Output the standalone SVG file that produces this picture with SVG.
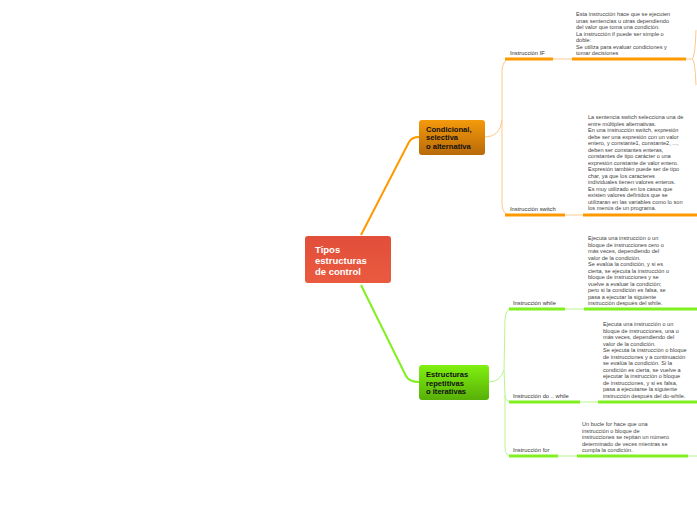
<svg xmlns="http://www.w3.org/2000/svg" width="697" height="520" viewBox="0 0 697 520">
<defs>
<linearGradient id="gO" x1="0" y1="0" x2="0" y2="1"><stop offset="0" stop-color="#f59a0c"/><stop offset="1" stop-color="#b86a08"/></linearGradient>
<linearGradient id="gG" x1="0" y1="0" x2="0" y2="1"><stop offset="0" stop-color="#80f010"/><stop offset="1" stop-color="#58b008"/></linearGradient>
<linearGradient id="gR" x1="0" y1="0" x2="0" y2="1"><stop offset="0" stop-color="#e14e3a"/><stop offset="1" stop-color="#ea5a3f"/></linearGradient>
</defs>
<style>
text{font-family:"Liberation Sans",Arial,sans-serif}
.d{font-size:5.6px;fill:#444}
.l{font-size:5.8px;fill:#333}
.n{font-size:7.6px;font-weight:bold;fill:#111}
.o{stroke:#f90;fill:none}
.g{stroke:#80f020;fill:none}
.thinO{stroke:#fbc98a;fill:none;stroke-width:1}
.thinG{stroke:#b8f58a;fill:none;stroke-width:1}
</style>
<rect width="697" height="520" fill="#fff"/>
<g id="connectors">
<path class="o" stroke-width="2" d="M361 235 L409 142 Q412 137 419 137"/>
<path class="g" stroke-width="2" d="M361 285 L406 376 Q409 382 419 382"/>
<path class="thinO" d="M485 137 Q500 137 502 120 L502 70 Q503 59 510 59 M502 120 L502 205 Q503 215 510 215"/>
<path class="o" stroke-width="3" d="M505 59 L553 59 M572 59 L686 59 M505 215 L565 215 M583 215 L697 215"/>
<path class="thinO" d="M553 59 L572 59 M565 215 L583 215 M686 59 L692 59 Q695 59 696 30 M692 59 Q695 59 696 85"/>
<path class="thinG" d="M489 382 Q500 382 504 370 L505 320 Q505 309 512 309 M504 370 L505 395 Q505 402 512 402 M505 395 L505 448 Q505 456 512 456"/>
<path class="g" stroke-width="3" d="M509 309 L565 309 M584 309 L697 309 M509 402 L580 402 M598 402 L697 402 M509 456 L558 456 M577 456 L688 456"/>
<path class="thinG" d="M565 309 L584 309 M580 402 L598 402 M558 456 L577 456 M688 456 L697 456"/>
</g>
<g id="root"><rect x="305" y="236" width="86" height="47" rx="3" fill="url(#gR)"/>
<text x="315" y="253" font-size="9.5" font-weight="bold" fill="#fff">Tipos</text>
<text x="315" y="264" font-size="9.5" font-weight="bold" fill="#fff">estructuras</text>
<text x="315" y="275" font-size="9.5" font-weight="bold" fill="#fff">de control</text></g>
<g id="cond"><rect x="419" y="120" width="66" height="35" rx="3" fill="url(#gO)"/>
<text class="n" x="426" y="132">Condicional,</text><text class="n" x="426" y="140">selectiva</text><text class="n" x="426" y="149">o alternativa</text></g>
<g id="rep"><rect x="419" y="365" width="70" height="35" rx="3" fill="url(#gG)"/>
<text class="n" x="426" y="377">Estructuras</text><text class="n" x="426" y="386">repetitivas</text><text class="n" x="426" y="394">o iterativas</text></g>
<g id="if"><text class="l" x="510" y="55">Instrucción IF</text>
<text class="d" x="576" y="16"><tspan x="576">Esta instrucción hace que se ejecuten</tspan><tspan x="576" dy="6.5">unas sentencias u otras dependiendo</tspan><tspan x="576" dy="6.5">del valor que toma una condición.</tspan><tspan x="576" dy="6.5">La instrucción if puede ser simple o</tspan><tspan x="576" dy="6.5">doble:</tspan><tspan x="576" dy="6.5">Se utiliza para evaluar condiciones y</tspan><tspan x="576" dy="6.5">tomar decisiones</tspan></text></g>
<g id="switch"><text class="l" x="510" y="211">Instrucción switch</text>
<text class="d" x="588" y="119"><tspan x="588">La sentencia switch selecciona una de</tspan><tspan x="588" dy="6.5">entre múltiples alternativas.</tspan><tspan x="588" dy="6.5">En una instrucción switch, expresión</tspan><tspan x="588" dy="6.5">debe ser una expresión con un valor</tspan><tspan x="588" dy="6.5">entero, y constante1, constante2, ...,</tspan><tspan x="588" dy="6.5">deben ser constantes enteras,</tspan><tspan x="588" dy="6.5">constantes de tipo carácter o una</tspan><tspan x="588" dy="6.5">expresión constante de valor entero.</tspan><tspan x="588" dy="6.5">Expresión también puede ser de tipo</tspan><tspan x="588" dy="6.5">char, ya que los caracteres</tspan><tspan x="588" dy="6.5">individuales tienen valores enteros.</tspan><tspan x="588" dy="6.5">Es muy utilizado en los casos que</tspan><tspan x="588" dy="6.5">existen valores definidos que se</tspan><tspan x="588" dy="6.5">utilizaran en las variables como lo son</tspan><tspan x="588" dy="6.5">los menús de un programa.</tspan></text></g>
<g id="while"><text class="l" x="513" y="305">Instrucción while</text>
<text class="d" x="588" y="240"><tspan x="588">Ejecuta una instrucción o un</tspan><tspan x="588" dy="6.5">bloque de instrucciones cero o</tspan><tspan x="588" dy="6.5">más veces, dependiendo del</tspan><tspan x="588" dy="6.5">valor de la condición.</tspan><tspan x="588" dy="6.5">Se evalúa la condición, y si es</tspan><tspan x="588" dy="6.5">cierta, se ejecuta la instrucción o</tspan><tspan x="588" dy="6.5">bloque de instrucciones y se</tspan><tspan x="588" dy="6.5">vuelve a evaluar la condición;</tspan><tspan x="588" dy="6.5">pero si la condición es falsa, se</tspan><tspan x="588" dy="6.5">pasa a ejecutar la siguiente</tspan><tspan x="588" dy="6.5">instrucción después del while.</tspan></text></g>
<g id="dowhile"><text class="l" x="513" y="398">Instrucción do .. while</text>
<text class="d" x="603" y="326"><tspan x="603">Ejecuta una instrucción o un</tspan><tspan x="603" dy="6.5">bloque de instrucciones, una o</tspan><tspan x="603" dy="6.5">más veces, dependiendo del</tspan><tspan x="603" dy="6.5">valor de la condición.</tspan><tspan x="603" dy="6.5">Se ejecuta la instrucción o bloque</tspan><tspan x="603" dy="6.5">de instrucciones y a continuación</tspan><tspan x="603" dy="6.5">se evalúa la condición. Si la</tspan><tspan x="603" dy="6.5">condición es cierta, se vuelve a</tspan><tspan x="603" dy="6.5">ejecutar la instrucción o bloque</tspan><tspan x="603" dy="6.5">de instrucciones, y si es falsa,</tspan><tspan x="603" dy="6.5">pasa a ejecutarse la siguiente</tspan><tspan x="603" dy="6.5">instrucción después del do-while.</tspan></text></g>
<g id="for"><text class="l" x="513" y="452">Instrucción for</text>
<text class="d" x="582" y="426"><tspan x="582">Un bucle for hace que una</tspan><tspan x="582" dy="6.5">instrucción o bloque de</tspan><tspan x="582" dy="6.5">instrucciones se repitan un número</tspan><tspan x="582" dy="6.5">determinado de veces mientras se</tspan><tspan x="582" dy="6.5">cumpla la condición.</tspan></text></g>
</svg>
